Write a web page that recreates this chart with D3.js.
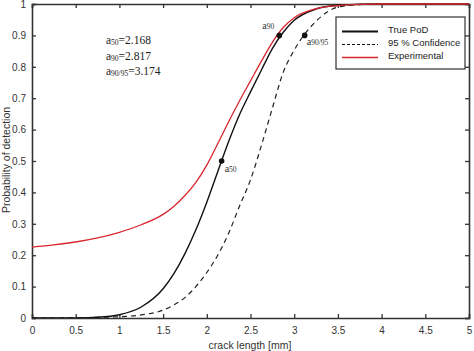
<!DOCTYPE html>
<html><head><meta charset="utf-8">
<script src="https://cdn.jsdelivr.net/npm/d3@7"></script>
<style>body{margin:0;background:#fff}svg{display:block}</style>
</head><body>
<svg id="c" width="474" height="351"></svg>
<script>
const crackLength = [0,0.25,0.5,0.75,1,1.25,1.5,1.625,1.75,1.875,2,2.125,2.25,2.375,2.5,2.625,2.75,2.875,3,3.25,3.5,3.75,4,4.5,5];
const truePoD     = [0,0.0001,0.0005,0.0025,0.0105,0.035,0.093,0.142,0.205,0.281,0.369,0.466,0.562,0.648,0.72,0.79,0.858,0.91,0.948,0.984,0.996,0.999,1,1,1];
const confidence95= [0,0,0.0005,0.002,0.004,0.01,0.025,0.042,0.065,0.1,0.145,0.2,0.27,0.357,0.44,0.55,0.668,0.783,0.853,0.945,0.99,0.998,1,1,1];
const experimental= [0.226,0.233,0.242,0.255,0.273,0.297,0.33,0.356,0.39,0.432,0.487,0.555,0.625,0.692,0.755,0.818,0.878,0.925,0.956,0.985,0.995,0.999,1,1,1];
const markers = [
  {x:2.17, y:0.5, sub:"50", dx:3, dy:11},
  {x:2.83, y:0.9, sub:"90", dx:-17, dy:-6},
  {x:3.12, y:0.9, sub:"90/95", dx:2, dy:10}
];
const annotations = [["50","=2.168"],["90","=2.817"],["90/95","=3.174"]];
const xTicks = [0,0.5,1,1.5,2,2.5,3,3.5,4,4.5,5];
const yTicks = [0,0.1,0.2,0.3,0.4,0.5,0.6,0.7,0.8,0.9,1];
const legendItems = [
  {label:"True PoD", color:"#111", dash:null, w:2.2},
  {label:"95 % Confidence", color:"#111", dash:"3,2", w:1.2},
  {label:"Experimental", color:"#d8262e", dash:null, w:1.4}
];

const svg = d3.select("#c");
const L=32, R=469, T=4, B=318;
const x = d3.scaleLinear().domain([0,5]).range([L,R]);
const y = d3.scaleLinear().domain([0,1]).range([B,T]);
const font = "'Liberation Sans', Arial, sans-serif";
const axCol = "#333";

function fmt(d){ return String(d); }

// axes
const gx = svg.append("g").attr("transform",`translate(0,${B})`)
  .call(d3.axisBottom(x).tickValues(xTicks).tickSize(-4).tickPadding(9).tickFormat(fmt));
const gxt = svg.append("g").attr("transform",`translate(0,${T})`)
  .call(d3.axisTop(x).tickValues(xTicks).tickSize(-4).tickFormat(""));
const gy = svg.append("g").attr("transform",`translate(${L},0)`)
  .call(d3.axisLeft(y).tickValues(yTicks).tickSize(-4).tickPadding(6).tickFormat(fmt));
const gyr = svg.append("g").attr("transform",`translate(${R},0)`)
  .call(d3.axisRight(y).tickValues(yTicks).tickSize(-4).tickFormat(""));
[gx,gxt,gy,gyr].forEach(g=>{
  g.select(".domain").attr("stroke",axCol).attr("stroke-width",1.6);
  g.selectAll(".tick line").attr("stroke",axCol).attr("stroke-width",1.3);
  g.selectAll(".tick text").attr("fill","#333").style("font-family",font).style("font-size","10px");
});

// curves
const line = d3.line().x(d=>x(d[0])).y(d=>y(d[1])).curve(d3.curveMonotoneX);
const mk = arr => crackLength.map((c,i)=>[c,arr[i]]);
svg.append("clipPath").attr("id","cp").append("rect").attr("x",L).attr("y",T-1).attr("width",R-L).attr("height",B-T+1);
const cg = svg.append("g").attr("clip-path","url(#cp)");
cg.append("path").attr("d",line(mk(confidence95))).attr("fill","none").attr("stroke","#222").attr("stroke-width",1.2).attr("stroke-dasharray","5,4");
cg.append("path").attr("d",line(mk(truePoD))).attr("fill","none").attr("stroke","#111").attr("stroke-width",1.4);
cg.append("path").attr("d",line(mk(experimental))).attr("fill","none").attr("stroke","#d8262e").attr("stroke-width",1.3);

// markers
markers.forEach(m=>{
  svg.append("circle").attr("cx",x(m.x)).attr("cy",y(m.y)).attr("r",2.8).attr("fill","#111");
  const t = svg.append("text").attr("x",x(m.x)+m.dx).attr("y",y(m.y)+m.dy)
    .style("font-family","'Liberation Serif','Times New Roman',serif").style("font-size","10px").attr("fill","#333");
  t.append("tspan").text("a");
  t.append("tspan").style("font-size","7.5px").text(m.sub);
});

// annotation
annotations.forEach((a,i)=>{
  const t = svg.append("text").attr("x",106).attr("y",44+i*15.5)
    .style("font-family","'Liberation Serif','Times New Roman',serif").style("font-size","11.5px").attr("fill","#222");
  t.append("tspan").text("a");
  t.append("tspan").style("font-size","7.5px").attr("dy",1).text(a[0]);
  t.append("tspan").attr("dy",-1).text(a[1]);
});

// legend
const lg = svg.append("g");
lg.append("rect").attr("x",336).attr("y",17).attr("width",129).attr("height",52).attr("fill","#fff").attr("stroke","#333").attr("stroke-width",1.2);
legendItems.forEach((d,i)=>{
  const yy = 31.5 + i*13;
  const ln = lg.append("line").attr("x1",342).attr("x2",378).attr("y1",yy).attr("y2",yy)
    .attr("stroke",d.color).attr("stroke-width",d.w);
  if (d.dash) ln.attr("stroke-dasharray",d.dash);
  lg.append("text").attr("x",388).attr("y",yy+1).text(d.label)
    .style("font-family",font).style("font-size","9.5px").attr("fill","#222");
});

// axis labels
svg.append("text").attr("x",250).attr("y",349).attr("text-anchor","middle").text("crack length [mm]")
  .style("font-family",font).style("font-size","10.5px").attr("fill","#333");
svg.append("text").attr("transform","translate(10,160) rotate(-90)").attr("text-anchor","middle").text("Probability of detection")
  .style("font-family",font).style("font-size","10.5px").attr("fill","#333");
</script>
</body></html>
